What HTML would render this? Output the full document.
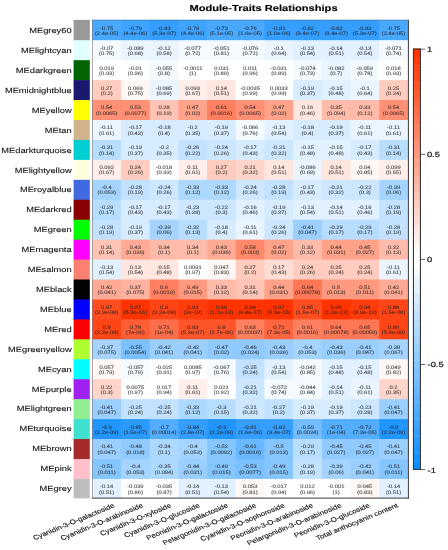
<!DOCTYPE html>
<html><head><meta charset="utf-8"><title>Module-Traits Relationships</title>
<style>html,body{margin:0;padding:0;background:#fff}svg{display:block}text{font-family:"Liberation Sans",Arial,Helvetica,sans-serif;text-rendering:geometricPrecision}</style></head>
<body>
<svg width="448" height="550" viewBox="0 0 448 550">
<rect width="100%" height="100%" fill="#fff"/>
<g font-size="11.11" font-weight="bold" text-anchor="middle" fill="#000" stroke="#000" stroke-width="0.15"><text transform="translate(263.50 11.40) scale(1 0.790)">Module-Traits Relationships</text></g>
<g>
<rect x="73.60" y="19.90" width="16.20" height="20.94" fill="#999999"/>
<rect x="73.60" y="40.24" width="16.20" height="20.54" fill="#E0FFFF"/>
<rect x="73.60" y="60.18" width="16.20" height="20.54" fill="#006400"/>
<rect x="73.60" y="80.12" width="16.20" height="20.54" fill="#191970"/>
<rect x="73.60" y="100.06" width="16.20" height="20.54" fill="#FFFF00"/>
<rect x="73.60" y="120.00" width="16.20" height="20.54" fill="#D2B48C"/>
<rect x="73.60" y="139.94" width="16.20" height="20.54" fill="#00CED1"/>
<rect x="73.60" y="159.88" width="16.20" height="20.54" fill="#FFFFE0"/>
<rect x="73.60" y="179.82" width="16.20" height="20.54" fill="#4169E1"/>
<rect x="73.60" y="199.76" width="16.20" height="20.54" fill="#8B0000"/>
<rect x="73.60" y="219.70" width="16.20" height="20.54" fill="#00FF00"/>
<rect x="73.60" y="239.64" width="16.20" height="20.54" fill="#FF00FF"/>
<rect x="73.60" y="259.58" width="16.20" height="20.54" fill="#FA8072"/>
<rect x="73.60" y="279.52" width="16.20" height="20.54" fill="#000000"/>
<rect x="73.60" y="299.46" width="16.20" height="20.54" fill="#0000FF"/>
<rect x="73.60" y="319.40" width="16.20" height="20.54" fill="#FF0000"/>
<rect x="73.60" y="339.34" width="16.20" height="20.54" fill="#ADFF2F"/>
<rect x="73.60" y="359.28" width="16.20" height="20.54" fill="#00FFFF"/>
<rect x="73.60" y="379.22" width="16.20" height="20.54" fill="#A020F0"/>
<rect x="73.60" y="399.16" width="16.20" height="20.54" fill="#90EE90"/>
<rect x="73.60" y="419.10" width="16.20" height="20.54" fill="#40E0D0"/>
<rect x="73.60" y="439.04" width="16.20" height="20.54" fill="#A52A2A"/>
<rect x="73.60" y="458.98" width="16.20" height="20.54" fill="#FFC0CB"/>
<rect x="73.60" y="478.92" width="16.20" height="19.48" fill="#BEBEBE"/>
</g>
<g font-size="9.30" text-anchor="end" fill="#111" stroke="#111" stroke-width="0.12">
<text transform="translate(71.60 33.22) scale(1 0.800)">MEgrey60</text>
<text transform="translate(71.60 53.13) scale(1 0.800)">MElightcyan</text>
<text transform="translate(71.60 73.03) scale(1 0.800)">MEdarkgreen</text>
<text transform="translate(71.60 92.94) scale(1 0.800)">MEmidnightblue</text>
<text transform="translate(71.60 112.84) scale(1 0.800)">MEyellow</text>
<text transform="translate(71.60 132.74) scale(1 0.800)">MEtan</text>
<text transform="translate(71.60 152.65) scale(1 0.800)">MEdarkturquoise</text>
<text transform="translate(71.60 172.56) scale(1 0.800)">MElightyellow</text>
<text transform="translate(71.60 192.46) scale(1 0.800)">MEroyalblue</text>
<text transform="translate(71.60 212.37) scale(1 0.800)">MEdarkred</text>
<text transform="translate(71.60 232.27) scale(1 0.800)">MEgreen</text>
<text transform="translate(71.60 252.18) scale(1 0.800)">MEmagenta</text>
<text transform="translate(71.60 272.08) scale(1 0.800)">MEsalmon</text>
<text transform="translate(71.60 291.99) scale(1 0.800)">MEblack</text>
<text transform="translate(71.60 311.89) scale(1 0.800)">MEblue</text>
<text transform="translate(71.60 331.80) scale(1 0.800)">MEred</text>
<text transform="translate(71.60 351.70) scale(1 0.800)">MEgreenyellow</text>
<text transform="translate(71.60 371.61) scale(1 0.800)">MEcyan</text>
<text transform="translate(71.60 391.51) scale(1 0.800)">MEpurple</text>
<text transform="translate(71.60 411.42) scale(1 0.800)">MElightgreen</text>
<text transform="translate(71.60 431.32) scale(1 0.800)">MEturquoise</text>
<text transform="translate(71.60 451.23) scale(1 0.800)">MEbrown</text>
<text transform="translate(71.60 471.13) scale(1 0.800)">MEpink</text>
<text transform="translate(71.60 491.04) scale(1 0.800)">MEgrey</text>
</g>
<g>
<rect x="92.35" y="19.80" width="29.28" height="21.04" fill="#49A9FF"/><rect x="121.03" y="19.80" width="29.28" height="21.04" fill="#3FA4FF"/><rect x="149.71" y="19.80" width="29.28" height="21.04" fill="#359FFF"/><rect x="178.40" y="19.80" width="29.28" height="21.04" fill="#3FA4FF"/><rect x="207.08" y="19.80" width="29.28" height="21.04" fill="#49A9FF"/><rect x="235.76" y="19.80" width="29.28" height="21.04" fill="#49A9FF"/><rect x="264.44" y="19.80" width="29.28" height="21.04" fill="#359FFF"/><rect x="293.12" y="19.80" width="29.28" height="21.04" fill="#359FFF"/><rect x="321.80" y="19.80" width="29.28" height="21.04" fill="#359FFF"/><rect x="350.49" y="19.80" width="29.28" height="21.04" fill="#359FFF"/><rect x="379.17" y="19.80" width="28.98" height="21.04" fill="#49A9FF"/>
<rect x="92.35" y="40.24" width="29.28" height="20.54" fill="#F5FAFF"/><rect x="121.03" y="40.24" width="29.28" height="20.54" fill="#EBF5FF"/><rect x="149.71" y="40.24" width="29.28" height="20.54" fill="#EBF5FF"/><rect x="178.40" y="40.24" width="29.28" height="20.54" fill="#F5FAFF"/><rect x="207.08" y="40.24" width="29.28" height="20.54" fill="#F5FAFF"/><rect x="235.76" y="40.24" width="29.28" height="20.54" fill="#F5FAFF"/><rect x="264.44" y="40.24" width="29.28" height="20.54" fill="#EBF5FF"/><rect x="293.12" y="40.24" width="29.28" height="20.54" fill="#E1F1FF"/><rect x="321.80" y="40.24" width="29.28" height="20.54" fill="#E1F1FF"/><rect x="350.49" y="40.24" width="29.28" height="20.54" fill="#E1F1FF"/><rect x="379.17" y="40.24" width="28.98" height="20.54" fill="#F5FAFF"/>
<rect x="92.35" y="60.18" width="29.28" height="20.54" fill="#FFFFFF"/><rect x="121.03" y="60.18" width="29.28" height="20.54" fill="#FFFFFF"/><rect x="149.71" y="60.18" width="29.28" height="20.54" fill="#F5FAFF"/><rect x="178.40" y="60.18" width="29.28" height="20.54" fill="#FFFFFF"/><rect x="207.08" y="60.18" width="29.28" height="20.54" fill="#FFFFFF"/><rect x="235.76" y="60.18" width="29.28" height="20.54" fill="#FFFFFF"/><rect x="264.44" y="60.18" width="29.28" height="20.54" fill="#FFFFFF"/><rect x="293.12" y="60.18" width="29.28" height="20.54" fill="#F5FAFF"/><rect x="321.80" y="60.18" width="29.28" height="20.54" fill="#EBF5FF"/><rect x="350.49" y="60.18" width="29.28" height="20.54" fill="#F5FAFF"/><rect x="379.17" y="60.18" width="28.98" height="20.54" fill="#FFFFFF"/>
<rect x="92.35" y="80.12" width="29.28" height="20.54" fill="#FFCCBF"/><rect x="121.03" y="80.12" width="29.28" height="20.54" fill="#FFF7F4"/><rect x="149.71" y="80.12" width="29.28" height="20.54" fill="#EBF5FF"/><rect x="178.40" y="80.12" width="29.28" height="20.54" fill="#FFEEEA"/><rect x="207.08" y="80.12" width="29.28" height="20.54" fill="#FFE6DF"/><rect x="235.76" y="80.12" width="29.28" height="20.54" fill="#FFFFFF"/><rect x="264.44" y="80.12" width="29.28" height="20.54" fill="#FFFFFF"/><rect x="293.12" y="80.12" width="29.28" height="20.54" fill="#D7ECFF"/><rect x="321.80" y="80.12" width="29.28" height="20.54" fill="#E1F1FF"/><rect x="350.49" y="80.12" width="29.28" height="20.54" fill="#EBF5FF"/><rect x="379.17" y="80.12" width="28.98" height="20.54" fill="#FFCCBF"/>
<rect x="92.35" y="100.06" width="29.28" height="20.54" fill="#FF9075"/><rect x="121.03" y="100.06" width="29.28" height="20.54" fill="#FF9075"/><rect x="149.71" y="100.06" width="29.28" height="20.54" fill="#FFC4B5"/><rect x="178.40" y="100.06" width="29.28" height="20.54" fill="#FFA28A"/><rect x="207.08" y="100.06" width="29.28" height="20.54" fill="#FF8060"/><rect x="235.76" y="100.06" width="29.28" height="20.54" fill="#FF9075"/><rect x="264.44" y="100.06" width="29.28" height="20.54" fill="#FFA28A"/><rect x="293.12" y="100.06" width="29.28" height="20.54" fill="#FFE6DF"/><rect x="321.80" y="100.06" width="29.28" height="20.54" fill="#FFBBAA"/><rect x="350.49" y="100.06" width="29.28" height="20.54" fill="#FFBBAA"/><rect x="379.17" y="100.06" width="28.98" height="20.54" fill="#FF9075"/>
<rect x="92.35" y="120.00" width="29.28" height="20.54" fill="#EBF5FF"/><rect x="121.03" y="120.00" width="29.28" height="20.54" fill="#D7ECFF"/><rect x="149.71" y="120.00" width="29.28" height="20.54" fill="#D7ECFF"/><rect x="178.40" y="120.00" width="29.28" height="20.54" fill="#D7ECFF"/><rect x="207.08" y="120.00" width="29.28" height="20.54" fill="#D7ECFF"/><rect x="235.76" y="120.00" width="29.28" height="20.54" fill="#F5FAFF"/><rect x="264.44" y="120.00" width="29.28" height="20.54" fill="#E1F1FF"/><rect x="293.12" y="120.00" width="29.28" height="20.54" fill="#D7ECFF"/><rect x="321.80" y="120.00" width="29.28" height="20.54" fill="#D7ECFF"/><rect x="350.49" y="120.00" width="29.28" height="20.54" fill="#EBF5FF"/><rect x="379.17" y="120.00" width="28.98" height="20.54" fill="#EBF5FF"/>
<rect x="92.35" y="139.94" width="29.28" height="20.54" fill="#B8DEFF"/><rect x="121.03" y="139.94" width="29.28" height="20.54" fill="#D7ECFF"/><rect x="149.71" y="139.94" width="29.28" height="20.54" fill="#D7ECFF"/><rect x="178.40" y="139.94" width="29.28" height="20.54" fill="#C2E2FF"/><rect x="207.08" y="139.94" width="29.28" height="20.54" fill="#CDE7FF"/><rect x="235.76" y="139.94" width="29.28" height="20.54" fill="#D7ECFF"/><rect x="264.44" y="139.94" width="29.28" height="20.54" fill="#CDE7FF"/><rect x="293.12" y="139.94" width="29.28" height="20.54" fill="#E1F1FF"/><rect x="321.80" y="139.94" width="29.28" height="20.54" fill="#E1F1FF"/><rect x="350.49" y="139.94" width="29.28" height="20.54" fill="#D7ECFF"/><rect x="379.17" y="139.94" width="28.98" height="20.54" fill="#B8DEFF"/>
<rect x="92.35" y="159.88" width="29.28" height="20.54" fill="#FFEEEA"/><rect x="121.03" y="159.88" width="29.28" height="20.54" fill="#FFCCBF"/><rect x="149.71" y="159.88" width="29.28" height="20.54" fill="#FFFFFF"/><rect x="178.40" y="159.88" width="29.28" height="20.54" fill="#FFEEEA"/><rect x="207.08" y="159.88" width="29.28" height="20.54" fill="#FFCCBF"/><rect x="235.76" y="159.88" width="29.28" height="20.54" fill="#FFD4CA"/><rect x="264.44" y="159.88" width="29.28" height="20.54" fill="#FFE6DF"/><rect x="293.12" y="159.88" width="29.28" height="20.54" fill="#EBF5FF"/><rect x="321.80" y="159.88" width="29.28" height="20.54" fill="#FFE6DF"/><rect x="350.49" y="159.88" width="29.28" height="20.54" fill="#FFF7F4"/><rect x="379.17" y="159.88" width="28.98" height="20.54" fill="#FFEEEA"/>
<rect x="92.35" y="179.82" width="29.28" height="20.54" fill="#A4D4FF"/><rect x="121.03" y="179.82" width="29.28" height="20.54" fill="#C2E2FF"/><rect x="149.71" y="179.82" width="29.28" height="20.54" fill="#CDE7FF"/><rect x="178.40" y="179.82" width="29.28" height="20.54" fill="#AED9FF"/><rect x="207.08" y="179.82" width="29.28" height="20.54" fill="#AED9FF"/><rect x="235.76" y="179.82" width="29.28" height="20.54" fill="#CDE7FF"/><rect x="264.44" y="179.82" width="29.28" height="20.54" fill="#C2E2FF"/><rect x="293.12" y="179.82" width="29.28" height="20.54" fill="#D7ECFF"/><rect x="321.80" y="179.82" width="29.28" height="20.54" fill="#CDE7FF"/><rect x="350.49" y="179.82" width="29.28" height="20.54" fill="#CDE7FF"/><rect x="379.17" y="179.82" width="28.98" height="20.54" fill="#A4D4FF"/>
<rect x="92.35" y="199.76" width="29.28" height="20.54" fill="#B8DEFF"/><rect x="121.03" y="199.76" width="29.28" height="20.54" fill="#D7ECFF"/><rect x="149.71" y="199.76" width="29.28" height="20.54" fill="#D7ECFF"/><rect x="178.40" y="199.76" width="29.28" height="20.54" fill="#CDE7FF"/><rect x="207.08" y="199.76" width="29.28" height="20.54" fill="#CDE7FF"/><rect x="235.76" y="199.76" width="29.28" height="20.54" fill="#E1F1FF"/><rect x="264.44" y="199.76" width="29.28" height="20.54" fill="#D7ECFF"/><rect x="293.12" y="199.76" width="29.28" height="20.54" fill="#E1F1FF"/><rect x="321.80" y="199.76" width="29.28" height="20.54" fill="#E1F1FF"/><rect x="350.49" y="199.76" width="29.28" height="20.54" fill="#E1F1FF"/><rect x="379.17" y="199.76" width="28.98" height="20.54" fill="#C2E2FF"/>
<rect x="92.35" y="219.70" width="29.28" height="20.54" fill="#C2E2FF"/><rect x="121.03" y="219.70" width="29.28" height="20.54" fill="#D7ECFF"/><rect x="149.71" y="219.70" width="29.28" height="20.54" fill="#A4D4FF"/><rect x="178.40" y="219.70" width="29.28" height="20.54" fill="#B8DEFF"/><rect x="207.08" y="219.70" width="29.28" height="20.54" fill="#D7ECFF"/><rect x="235.76" y="219.70" width="29.28" height="20.54" fill="#EBF5FF"/><rect x="264.44" y="219.70" width="29.28" height="20.54" fill="#CDE7FF"/><rect x="293.12" y="219.70" width="29.28" height="20.54" fill="#9ACFFF"/><rect x="321.80" y="219.70" width="29.28" height="20.54" fill="#B8DEFF"/><rect x="350.49" y="219.70" width="29.28" height="20.54" fill="#B8DEFF"/><rect x="379.17" y="219.70" width="28.98" height="20.54" fill="#C2E2FF"/>
<rect x="92.35" y="239.64" width="29.28" height="20.54" fill="#FFC4B5"/><rect x="121.03" y="239.64" width="29.28" height="20.54" fill="#FFAA95"/><rect x="149.71" y="239.64" width="29.28" height="20.54" fill="#FFBBAA"/><rect x="178.40" y="239.64" width="29.28" height="20.54" fill="#FFBBAA"/><rect x="207.08" y="239.64" width="29.28" height="20.54" fill="#FFAA95"/><rect x="235.76" y="239.64" width="29.28" height="20.54" fill="#FF886A"/><rect x="264.44" y="239.64" width="29.28" height="20.54" fill="#FFA28A"/><rect x="293.12" y="239.64" width="29.28" height="20.54" fill="#FFBBAA"/><rect x="321.80" y="239.64" width="29.28" height="20.54" fill="#FFA28A"/><rect x="350.49" y="239.64" width="29.28" height="20.54" fill="#FFA28A"/><rect x="379.17" y="239.64" width="28.98" height="20.54" fill="#FFBBAA"/>
<rect x="92.35" y="259.58" width="29.28" height="20.54" fill="#E1F1FF"/><rect x="121.03" y="259.58" width="29.28" height="20.54" fill="#FFE6DF"/><rect x="149.71" y="259.58" width="29.28" height="20.54" fill="#FFE6DF"/><rect x="178.40" y="259.58" width="29.28" height="20.54" fill="#FFFFFF"/><rect x="207.08" y="259.58" width="29.28" height="20.54" fill="#FFF7F4"/><rect x="235.76" y="259.58" width="29.28" height="20.54" fill="#FFCCBF"/><rect x="264.44" y="259.58" width="29.28" height="20.54" fill="#FFDDD4"/><rect x="293.12" y="259.58" width="29.28" height="20.54" fill="#FFCCBF"/><rect x="321.80" y="259.58" width="29.28" height="20.54" fill="#FFCCBF"/><rect x="350.49" y="259.58" width="29.28" height="20.54" fill="#FFCCBF"/><rect x="379.17" y="259.58" width="28.98" height="20.54" fill="#EBF5FF"/>
<rect x="92.35" y="279.52" width="29.28" height="20.54" fill="#FFAA95"/><rect x="121.03" y="279.52" width="29.28" height="20.54" fill="#FFB29F"/><rect x="149.71" y="279.52" width="29.28" height="20.54" fill="#FF8060"/><rect x="178.40" y="279.52" width="29.28" height="20.54" fill="#FF9980"/><rect x="207.08" y="279.52" width="29.28" height="20.54" fill="#FFBBAA"/><rect x="235.76" y="279.52" width="29.28" height="20.54" fill="#FFC4B5"/><rect x="264.44" y="279.52" width="29.28" height="20.54" fill="#FFA28A"/><rect x="293.12" y="279.52" width="29.28" height="20.54" fill="#FF7755"/><rect x="321.80" y="279.52" width="29.28" height="20.54" fill="#FF9980"/><rect x="350.49" y="279.52" width="29.28" height="20.54" fill="#FF9980"/><rect x="379.17" y="279.52" width="28.98" height="20.54" fill="#FFAA95"/>
<rect x="92.35" y="299.46" width="29.28" height="20.54" fill="#FF4D20"/><rect x="121.03" y="299.46" width="29.28" height="20.54" fill="#FF3300"/><rect x="149.71" y="299.46" width="29.28" height="20.54" fill="#FF4415"/><rect x="178.40" y="299.46" width="29.28" height="20.54" fill="#FF3C0B"/><rect x="207.08" y="299.46" width="29.28" height="20.54" fill="#FF3300"/><rect x="235.76" y="299.46" width="29.28" height="20.54" fill="#FF3300"/><rect x="264.44" y="299.46" width="29.28" height="20.54" fill="#FF3300"/><rect x="293.12" y="299.46" width="29.28" height="20.54" fill="#FF4D20"/><rect x="321.80" y="299.46" width="29.28" height="20.54" fill="#FF3300"/><rect x="350.49" y="299.46" width="29.28" height="20.54" fill="#FF3C0B"/><rect x="379.17" y="299.46" width="28.98" height="20.54" fill="#FF4415"/>
<rect x="92.35" y="319.40" width="29.28" height="20.54" fill="#FF4415"/><rect x="121.03" y="319.40" width="29.28" height="20.54" fill="#FF5E35"/><rect x="149.71" y="319.40" width="29.28" height="20.54" fill="#FF6E4A"/><rect x="178.40" y="319.40" width="29.28" height="20.54" fill="#FF552A"/><rect x="207.08" y="319.40" width="29.28" height="20.54" fill="#FF552A"/><rect x="235.76" y="319.40" width="29.28" height="20.54" fill="#FF8060"/><rect x="264.44" y="319.40" width="29.28" height="20.54" fill="#FF6640"/><rect x="293.12" y="319.40" width="29.28" height="20.54" fill="#FF8060"/><rect x="321.80" y="319.40" width="29.28" height="20.54" fill="#FF7755"/><rect x="350.49" y="319.40" width="29.28" height="20.54" fill="#FF7755"/><rect x="379.17" y="319.40" width="28.98" height="20.54" fill="#FF4415"/>
<rect x="92.35" y="339.34" width="29.28" height="20.54" fill="#A4D4FF"/><rect x="121.03" y="339.34" width="29.28" height="20.54" fill="#7CC1FF"/><rect x="149.71" y="339.34" width="29.28" height="20.54" fill="#9ACFFF"/><rect x="178.40" y="339.34" width="29.28" height="20.54" fill="#9ACFFF"/><rect x="207.08" y="339.34" width="29.28" height="20.54" fill="#90CAFF"/><rect x="235.76" y="339.34" width="29.28" height="20.54" fill="#90CAFF"/><rect x="264.44" y="339.34" width="29.28" height="20.54" fill="#9ACFFF"/><rect x="293.12" y="339.34" width="29.28" height="20.54" fill="#A4D4FF"/><rect x="321.80" y="339.34" width="29.28" height="20.54" fill="#9ACFFF"/><rect x="350.49" y="339.34" width="29.28" height="20.54" fill="#9ACFFF"/><rect x="379.17" y="339.34" width="28.98" height="20.54" fill="#A4D4FF"/>
<rect x="92.35" y="359.28" width="29.28" height="20.54" fill="#FFF7F4"/><rect x="121.03" y="359.28" width="29.28" height="20.54" fill="#F5FAFF"/><rect x="149.71" y="359.28" width="29.28" height="20.54" fill="#FFFFFF"/><rect x="178.40" y="359.28" width="29.28" height="20.54" fill="#FFFFFF"/><rect x="207.08" y="359.28" width="29.28" height="20.54" fill="#F5FAFF"/><rect x="235.76" y="359.28" width="29.28" height="20.54" fill="#C2E2FF"/><rect x="264.44" y="359.28" width="29.28" height="20.54" fill="#E1F1FF"/><rect x="293.12" y="359.28" width="29.28" height="20.54" fill="#F5FAFF"/><rect x="321.80" y="359.28" width="29.28" height="20.54" fill="#E1F1FF"/><rect x="350.49" y="359.28" width="29.28" height="20.54" fill="#E1F1FF"/><rect x="379.17" y="359.28" width="28.98" height="20.54" fill="#FFF7F4"/>
<rect x="92.35" y="379.22" width="29.28" height="20.54" fill="#FFD4CA"/><rect x="121.03" y="379.22" width="29.28" height="20.54" fill="#FFFFFF"/><rect x="149.71" y="379.22" width="29.28" height="20.54" fill="#FFFFFF"/><rect x="178.40" y="379.22" width="29.28" height="20.54" fill="#FFEEEA"/><rect x="207.08" y="379.22" width="29.28" height="20.54" fill="#FFFFFF"/><rect x="235.76" y="379.22" width="29.28" height="20.54" fill="#CDE7FF"/><rect x="264.44" y="379.22" width="29.28" height="20.54" fill="#F5FAFF"/><rect x="293.12" y="379.22" width="29.28" height="20.54" fill="#F5FAFF"/><rect x="321.80" y="379.22" width="29.28" height="20.54" fill="#E1F1FF"/><rect x="350.49" y="379.22" width="29.28" height="20.54" fill="#EBF5FF"/><rect x="379.17" y="379.22" width="28.98" height="20.54" fill="#FFD4CA"/>
<rect x="92.35" y="399.16" width="29.28" height="20.54" fill="#9ACFFF"/><rect x="121.03" y="399.16" width="29.28" height="20.54" fill="#C2E2FF"/><rect x="149.71" y="399.16" width="29.28" height="20.54" fill="#C2E2FF"/><rect x="178.40" y="399.16" width="29.28" height="20.54" fill="#AED9FF"/><rect x="207.08" y="399.16" width="29.28" height="20.54" fill="#B8DEFF"/><rect x="235.76" y="399.16" width="29.28" height="20.54" fill="#CDE7FF"/><rect x="264.44" y="399.16" width="29.28" height="20.54" fill="#C2E2FF"/><rect x="293.12" y="399.16" width="29.28" height="20.54" fill="#D7ECFF"/><rect x="321.80" y="399.16" width="29.28" height="20.54" fill="#D7ECFF"/><rect x="350.49" y="399.16" width="29.28" height="20.54" fill="#CDE7FF"/><rect x="379.17" y="399.16" width="28.98" height="20.54" fill="#9ACFFF"/>
<rect x="92.35" y="419.10" width="29.28" height="20.54" fill="#2196FF"/><rect x="121.03" y="419.10" width="29.28" height="20.54" fill="#2B9BFF"/><rect x="149.71" y="419.10" width="29.28" height="20.54" fill="#53AEFF"/><rect x="178.40" y="419.10" width="29.28" height="20.54" fill="#359FFF"/><rect x="207.08" y="419.10" width="29.28" height="20.54" fill="#2196FF"/><rect x="235.76" y="419.10" width="29.28" height="20.54" fill="#359FFF"/><rect x="264.44" y="419.10" width="29.28" height="20.54" fill="#359FFF"/><rect x="293.12" y="419.10" width="29.28" height="20.54" fill="#72BCFF"/><rect x="321.80" y="419.10" width="29.28" height="20.54" fill="#53AEFF"/><rect x="350.49" y="419.10" width="29.28" height="20.54" fill="#53AEFF"/><rect x="379.17" y="419.10" width="28.98" height="20.54" fill="#2196FF"/>
<rect x="92.35" y="439.04" width="29.28" height="20.54" fill="#9ACFFF"/><rect x="121.03" y="439.04" width="29.28" height="20.54" fill="#90CAFF"/><rect x="149.71" y="439.04" width="29.28" height="20.54" fill="#AED9FF"/><rect x="178.40" y="439.04" width="29.28" height="20.54" fill="#A4D4FF"/><rect x="207.08" y="439.04" width="29.28" height="20.54" fill="#86C6FF"/><rect x="235.76" y="439.04" width="29.28" height="20.54" fill="#68B7FF"/><rect x="264.44" y="439.04" width="29.28" height="20.54" fill="#86C6FF"/><rect x="293.12" y="439.04" width="29.28" height="20.54" fill="#B8DEFF"/><rect x="321.80" y="439.04" width="29.28" height="20.54" fill="#90CAFF"/><rect x="350.49" y="439.04" width="29.28" height="20.54" fill="#90CAFF"/><rect x="379.17" y="439.04" width="28.98" height="20.54" fill="#9ACFFF"/>
<rect x="92.35" y="458.98" width="29.28" height="20.54" fill="#86C6FF"/><rect x="121.03" y="458.98" width="29.28" height="20.54" fill="#A4D4FF"/><rect x="149.71" y="458.98" width="29.28" height="20.54" fill="#AED9FF"/><rect x="178.40" y="458.98" width="29.28" height="20.54" fill="#9ACFFF"/><rect x="207.08" y="458.98" width="29.28" height="20.54" fill="#86C6FF"/><rect x="235.76" y="458.98" width="29.28" height="20.54" fill="#7CC1FF"/><rect x="264.44" y="458.98" width="29.28" height="20.54" fill="#86C6FF"/><rect x="293.12" y="458.98" width="29.28" height="20.54" fill="#C2E2FF"/><rect x="321.80" y="458.98" width="29.28" height="20.54" fill="#A4D4FF"/><rect x="350.49" y="458.98" width="29.28" height="20.54" fill="#9ACFFF"/><rect x="379.17" y="458.98" width="28.98" height="20.54" fill="#86C6FF"/>
<rect x="92.35" y="478.92" width="29.28" height="19.68" fill="#E1F1FF"/><rect x="121.03" y="478.92" width="29.28" height="19.68" fill="#FFFFFF"/><rect x="149.71" y="478.92" width="29.28" height="19.68" fill="#FFFFFF"/><rect x="178.40" y="478.92" width="29.28" height="19.68" fill="#E1F1FF"/><rect x="207.08" y="478.92" width="29.28" height="19.68" fill="#E1F1FF"/><rect x="235.76" y="478.92" width="29.28" height="19.68" fill="#FFF7F4"/><rect x="264.44" y="478.92" width="29.28" height="19.68" fill="#FFFFFF"/><rect x="293.12" y="478.92" width="29.28" height="19.68" fill="#FFFFFF"/><rect x="321.80" y="478.92" width="29.28" height="19.68" fill="#FFFFFF"/><rect x="350.49" y="478.92" width="29.28" height="19.68" fill="#FFF7F4"/><rect x="379.17" y="478.92" width="28.98" height="19.68" fill="#E1F1FF"/>
</g>
<g fill="#3c3c3c"><rect x="92.00" y="19.80" width="0.70" height="478.80" fill-opacity="0.6"/><rect x="407.90" y="19.80" width="1.00" height="478.80"/><rect x="92.00" y="19.80" width="316.90" height="0.60" fill-opacity="0.5"/><rect x="92.00" y="497.60" width="316.90" height="1.00"/></g>
<g font-size="5.80" text-anchor="middle" fill="#222" opacity="0.78" stroke="#222" stroke-width="0.14">
<text transform="translate(106.69 29.70) scale(1 0.880)">-0.75</text><text transform="translate(106.69 34.90) scale(1 0.880)">(2.4e-05)</text><text transform="translate(135.37 29.70) scale(1 0.880)">-0.79</text><text transform="translate(135.37 34.90) scale(1 0.880)">(4.4e-06)</text><text transform="translate(164.05 29.70) scale(1 0.880)">-0.83</text><text transform="translate(164.05 34.90) scale(1 0.880)">(5.3e-07)</text><text transform="translate(192.74 29.70) scale(1 0.880)">-0.79</text><text transform="translate(192.74 34.90) scale(1 0.880)">(4.4e-06)</text><text transform="translate(221.42 29.70) scale(1 0.880)">-0.73</text><text transform="translate(221.42 34.90) scale(1 0.880)">(5.1e-05)</text><text transform="translate(250.10 29.70) scale(1 0.880)">-0.76</text><text transform="translate(250.10 34.90) scale(1 0.880)">(1.6e-05)</text><text transform="translate(278.78 29.70) scale(1 0.880)">-0.81</text><text transform="translate(278.78 34.90) scale(1 0.880)">(1.6e-06)</text><text transform="translate(307.46 29.70) scale(1 0.880)">-0.82</text><text transform="translate(307.46 34.90) scale(1 0.880)">(9.4e-07)</text><text transform="translate(336.15 29.70) scale(1 0.880)">-0.82</text><text transform="translate(336.15 34.90) scale(1 0.880)">(9.4e-07)</text><text transform="translate(364.83 29.70) scale(1 0.880)">-0.83</text><text transform="translate(364.83 34.90) scale(1 0.880)">(5.3e-07)</text><text transform="translate(393.51 29.70) scale(1 0.880)">-0.75</text><text transform="translate(393.51 34.90) scale(1 0.880)">(2.4e-05)</text>
<text transform="translate(106.69 49.64) scale(1 0.880)">-0.07</text><text transform="translate(106.69 54.84) scale(1 0.880)">(0.75)</text><text transform="translate(135.37 49.64) scale(1 0.880)">-0.089</text><text transform="translate(135.37 54.84) scale(1 0.880)">(0.68)</text><text transform="translate(164.05 49.64) scale(1 0.880)">-0.12</text><text transform="translate(164.05 54.84) scale(1 0.880)">(0.58)</text><text transform="translate(192.74 49.64) scale(1 0.880)">-0.077</text><text transform="translate(192.74 54.84) scale(1 0.880)">(0.72)</text><text transform="translate(221.42 49.64) scale(1 0.880)">-0.051</text><text transform="translate(221.42 54.84) scale(1 0.880)">(0.81)</text><text transform="translate(250.10 49.64) scale(1 0.880)">-0.076</text><text transform="translate(250.10 54.84) scale(1 0.880)">(0.72)</text><text transform="translate(278.78 49.64) scale(1 0.880)">-0.1</text><text transform="translate(278.78 54.84) scale(1 0.880)">(0.64)</text><text transform="translate(307.46 49.64) scale(1 0.880)">-0.13</text><text transform="translate(307.46 54.84) scale(1 0.880)">(0.54)</text><text transform="translate(336.15 49.64) scale(1 0.880)">-0.14</text><text transform="translate(336.15 54.84) scale(1 0.880)">(0.51)</text><text transform="translate(364.83 49.64) scale(1 0.880)">-0.13</text><text transform="translate(364.83 54.84) scale(1 0.880)">(0.54)</text><text transform="translate(393.51 49.64) scale(1 0.880)">-0.071</text><text transform="translate(393.51 54.84) scale(1 0.880)">(0.74)</text>
<text transform="translate(106.69 69.58) scale(1 0.880)">0.019</text><text transform="translate(106.69 74.78) scale(1 0.880)">(0.93)</text><text transform="translate(135.37 69.58) scale(1 0.880)">-0.01</text><text transform="translate(135.37 74.78) scale(1 0.880)">(0.96)</text><text transform="translate(164.05 69.58) scale(1 0.880)">-0.055</text><text transform="translate(164.05 74.78) scale(1 0.880)">(0.8)</text><text transform="translate(192.74 69.58) scale(1 0.880)">-0.0011</text><text transform="translate(192.74 74.78) scale(1 0.880)">(1)</text><text transform="translate(221.42 69.58) scale(1 0.880)">0.031</text><text transform="translate(221.42 74.78) scale(1 0.880)">(0.89)</text><text transform="translate(250.10 69.58) scale(1 0.880)">0.011</text><text transform="translate(250.10 74.78) scale(1 0.880)">(0.96)</text><text transform="translate(278.78 69.58) scale(1 0.880)">-0.031</text><text transform="translate(278.78 74.78) scale(1 0.880)">(0.89)</text><text transform="translate(307.46 69.58) scale(1 0.880)">-0.074</text><text transform="translate(307.46 74.78) scale(1 0.880)">(0.73)</text><text transform="translate(336.15 69.58) scale(1 0.880)">-0.082</text><text transform="translate(336.15 74.78) scale(1 0.880)">(0.7)</text><text transform="translate(364.83 69.58) scale(1 0.880)">-0.059</text><text transform="translate(364.83 74.78) scale(1 0.880)">(0.78)</text><text transform="translate(393.51 69.58) scale(1 0.880)">0.018</text><text transform="translate(393.51 74.78) scale(1 0.880)">(0.93)</text>
<text transform="translate(106.69 89.52) scale(1 0.880)">0.27</text><text transform="translate(106.69 94.72) scale(1 0.880)">(0.2)</text><text transform="translate(135.37 89.52) scale(1 0.880)">0.069</text><text transform="translate(135.37 94.72) scale(1 0.880)">(0.75)</text><text transform="translate(164.05 89.52) scale(1 0.880)">-0.085</text><text transform="translate(164.05 94.72) scale(1 0.880)">(0.69)</text><text transform="translate(192.74 89.52) scale(1 0.880)">0.093</text><text transform="translate(192.74 94.72) scale(1 0.880)">(0.67)</text><text transform="translate(221.42 89.52) scale(1 0.880)">0.14</text><text transform="translate(221.42 94.72) scale(1 0.880)">(0.51)</text><text transform="translate(250.10 89.52) scale(1 0.880)">-0.0035</text><text transform="translate(250.10 94.72) scale(1 0.880)">(0.99)</text><text transform="translate(278.78 89.52) scale(1 0.880)">0.0033</text><text transform="translate(278.78 94.72) scale(1 0.880)">(0.99)</text><text transform="translate(307.46 89.52) scale(1 0.880)">-0.19</text><text transform="translate(307.46 94.72) scale(1 0.880)">(0.37)</text><text transform="translate(336.15 89.52) scale(1 0.880)">-0.15</text><text transform="translate(336.15 94.72) scale(1 0.880)">(0.48)</text><text transform="translate(364.83 89.52) scale(1 0.880)">-0.1</text><text transform="translate(364.83 94.72) scale(1 0.880)">(0.64)</text><text transform="translate(393.51 89.52) scale(1 0.880)">0.25</text><text transform="translate(393.51 94.72) scale(1 0.880)">(0.24)</text>
<text transform="translate(106.69 109.46) scale(1 0.880)">0.54</text><text transform="translate(106.69 114.66) scale(1 0.880)">(0.0065)</text><text transform="translate(135.37 109.46) scale(1 0.880)">0.53</text><text transform="translate(135.37 114.66) scale(1 0.880)">(0.0077)</text><text transform="translate(164.05 109.46) scale(1 0.880)">0.28</text><text transform="translate(164.05 114.66) scale(1 0.880)">(0.19)</text><text transform="translate(192.74 109.46) scale(1 0.880)">0.47</text><text transform="translate(192.74 114.66) scale(1 0.880)">(0.02)</text><text transform="translate(221.42 109.46) scale(1 0.880)">0.61</text><text transform="translate(221.42 114.66) scale(1 0.880)">(0.0016)</text><text transform="translate(250.10 109.46) scale(1 0.880)">0.54</text><text transform="translate(250.10 114.66) scale(1 0.880)">(0.0065)</text><text transform="translate(278.78 109.46) scale(1 0.880)">0.47</text><text transform="translate(278.78 114.66) scale(1 0.880)">(0.02)</text><text transform="translate(307.46 109.46) scale(1 0.880)">0.16</text><text transform="translate(307.46 114.66) scale(1 0.880)">(0.46)</text><text transform="translate(336.15 109.46) scale(1 0.880)">0.35</text><text transform="translate(336.15 114.66) scale(1 0.880)">(0.094)</text><text transform="translate(364.83 109.46) scale(1 0.880)">0.33</text><text transform="translate(364.83 114.66) scale(1 0.880)">(0.12)</text><text transform="translate(393.51 109.46) scale(1 0.880)">0.54</text><text transform="translate(393.51 114.66) scale(1 0.880)">(0.0065)</text>
<text transform="translate(106.69 129.40) scale(1 0.880)">-0.11</text><text transform="translate(106.69 134.60) scale(1 0.880)">(0.61)</text><text transform="translate(135.37 129.40) scale(1 0.880)">-0.17</text><text transform="translate(135.37 134.60) scale(1 0.880)">(0.43)</text><text transform="translate(164.05 129.40) scale(1 0.880)">-0.18</text><text transform="translate(164.05 134.60) scale(1 0.880)">(0.4)</text><text transform="translate(192.74 129.40) scale(1 0.880)">-0.2</text><text transform="translate(192.74 134.60) scale(1 0.880)">(0.35)</text><text transform="translate(221.42 129.40) scale(1 0.880)">-0.19</text><text transform="translate(221.42 134.60) scale(1 0.880)">(0.37)</text><text transform="translate(250.10 129.40) scale(1 0.880)">-0.066</text><text transform="translate(250.10 134.60) scale(1 0.880)">(0.76)</text><text transform="translate(278.78 129.40) scale(1 0.880)">-0.13</text><text transform="translate(278.78 134.60) scale(1 0.880)">(0.54)</text><text transform="translate(307.46 129.40) scale(1 0.880)">-0.18</text><text transform="translate(307.46 134.60) scale(1 0.880)">(0.4)</text><text transform="translate(336.15 129.40) scale(1 0.880)">-0.19</text><text transform="translate(336.15 134.60) scale(1 0.880)">(0.37)</text><text transform="translate(364.83 129.40) scale(1 0.880)">-0.11</text><text transform="translate(364.83 134.60) scale(1 0.880)">(0.61)</text><text transform="translate(393.51 129.40) scale(1 0.880)">-0.11</text><text transform="translate(393.51 134.60) scale(1 0.880)">(0.61)</text>
<text transform="translate(106.69 149.34) scale(1 0.880)">-0.31</text><text transform="translate(106.69 154.54) scale(1 0.880)">(0.14)</text><text transform="translate(135.37 149.34) scale(1 0.880)">-0.19</text><text transform="translate(135.37 154.54) scale(1 0.880)">(0.37)</text><text transform="translate(164.05 149.34) scale(1 0.880)">-0.2</text><text transform="translate(164.05 154.54) scale(1 0.880)">(0.35)</text><text transform="translate(192.74 149.34) scale(1 0.880)">-0.26</text><text transform="translate(192.74 154.54) scale(1 0.880)">(0.22)</text><text transform="translate(221.42 149.34) scale(1 0.880)">-0.24</text><text transform="translate(221.42 154.54) scale(1 0.880)">(0.26)</text><text transform="translate(250.10 149.34) scale(1 0.880)">-0.17</text><text transform="translate(250.10 154.54) scale(1 0.880)">(0.43)</text><text transform="translate(278.78 149.34) scale(1 0.880)">-0.21</text><text transform="translate(278.78 154.54) scale(1 0.880)">(0.32)</text><text transform="translate(307.46 149.34) scale(1 0.880)">-0.15</text><text transform="translate(307.46 154.54) scale(1 0.880)">(0.48)</text><text transform="translate(336.15 149.34) scale(1 0.880)">-0.15</text><text transform="translate(336.15 154.54) scale(1 0.880)">(0.48)</text><text transform="translate(364.83 149.34) scale(1 0.880)">-0.17</text><text transform="translate(364.83 154.54) scale(1 0.880)">(0.43)</text><text transform="translate(393.51 149.34) scale(1 0.880)">-0.31</text><text transform="translate(393.51 154.54) scale(1 0.880)">(0.14)</text>
<text transform="translate(106.69 169.28) scale(1 0.880)">0.092</text><text transform="translate(106.69 174.48) scale(1 0.880)">(0.67)</text><text transform="translate(135.37 169.28) scale(1 0.880)">0.24</text><text transform="translate(135.37 174.48) scale(1 0.880)">(0.26)</text><text transform="translate(164.05 169.28) scale(1 0.880)">-0.018</text><text transform="translate(164.05 174.48) scale(1 0.880)">(0.93)</text><text transform="translate(192.74 169.28) scale(1 0.880)">0.11</text><text transform="translate(192.74 174.48) scale(1 0.880)">(0.61)</text><text transform="translate(221.42 169.28) scale(1 0.880)">0.27</text><text transform="translate(221.42 174.48) scale(1 0.880)">(0.2)</text><text transform="translate(250.10 169.28) scale(1 0.880)">0.21</text><text transform="translate(250.10 174.48) scale(1 0.880)">(0.32)</text><text transform="translate(278.78 169.28) scale(1 0.880)">0.14</text><text transform="translate(278.78 174.48) scale(1 0.880)">(0.51)</text><text transform="translate(307.46 169.28) scale(1 0.880)">-0.086</text><text transform="translate(307.46 174.48) scale(1 0.880)">(0.69)</text><text transform="translate(336.15 169.28) scale(1 0.880)">0.14</text><text transform="translate(336.15 174.48) scale(1 0.880)">(0.51)</text><text transform="translate(364.83 169.28) scale(1 0.880)">0.04</text><text transform="translate(364.83 174.48) scale(1 0.880)">(0.85)</text><text transform="translate(393.51 169.28) scale(1 0.880)">0.099</text><text transform="translate(393.51 174.48) scale(1 0.880)">(0.65)</text>
<text transform="translate(106.69 189.22) scale(1 0.880)">-0.4</text><text transform="translate(106.69 194.42) scale(1 0.880)">(0.053)</text><text transform="translate(135.37 189.22) scale(1 0.880)">-0.28</text><text transform="translate(135.37 194.42) scale(1 0.880)">(0.19)</text><text transform="translate(164.05 189.22) scale(1 0.880)">-0.24</text><text transform="translate(164.05 194.42) scale(1 0.880)">(0.26)</text><text transform="translate(192.74 189.22) scale(1 0.880)">-0.33</text><text transform="translate(192.74 194.42) scale(1 0.880)">(0.12)</text><text transform="translate(221.42 189.22) scale(1 0.880)">-0.33</text><text transform="translate(221.42 194.42) scale(1 0.880)">(0.12)</text><text transform="translate(250.10 189.22) scale(1 0.880)">-0.24</text><text transform="translate(250.10 194.42) scale(1 0.880)">(0.26)</text><text transform="translate(278.78 189.22) scale(1 0.880)">-0.28</text><text transform="translate(278.78 194.42) scale(1 0.880)">(0.19)</text><text transform="translate(307.46 189.22) scale(1 0.880)">-0.17</text><text transform="translate(307.46 194.42) scale(1 0.880)">(0.43)</text><text transform="translate(336.15 189.22) scale(1 0.880)">-0.21</text><text transform="translate(336.15 194.42) scale(1 0.880)">(0.32)</text><text transform="translate(364.83 189.22) scale(1 0.880)">-0.22</text><text transform="translate(364.83 194.42) scale(1 0.880)">(0.3)</text><text transform="translate(393.51 189.22) scale(1 0.880)">-0.39</text><text transform="translate(393.51 194.42) scale(1 0.880)">(0.06)</text>
<text transform="translate(106.69 209.16) scale(1 0.880)">-0.29</text><text transform="translate(106.69 214.36) scale(1 0.880)">(0.17)</text><text transform="translate(135.37 209.16) scale(1 0.880)">-0.17</text><text transform="translate(135.37 214.36) scale(1 0.880)">(0.43)</text><text transform="translate(164.05 209.16) scale(1 0.880)">-0.17</text><text transform="translate(164.05 214.36) scale(1 0.880)">(0.43)</text><text transform="translate(192.74 209.16) scale(1 0.880)">-0.23</text><text transform="translate(192.74 214.36) scale(1 0.880)">(0.28)</text><text transform="translate(221.42 209.16) scale(1 0.880)">-0.22</text><text transform="translate(221.42 214.36) scale(1 0.880)">(0.3)</text><text transform="translate(250.10 209.16) scale(1 0.880)">-0.16</text><text transform="translate(250.10 214.36) scale(1 0.880)">(0.46)</text><text transform="translate(278.78 209.16) scale(1 0.880)">-0.19</text><text transform="translate(278.78 214.36) scale(1 0.880)">(0.37)</text><text transform="translate(307.46 209.16) scale(1 0.880)">-0.13</text><text transform="translate(307.46 214.36) scale(1 0.880)">(0.54)</text><text transform="translate(336.15 209.16) scale(1 0.880)">-0.14</text><text transform="translate(336.15 214.36) scale(1 0.880)">(0.51)</text><text transform="translate(364.83 209.16) scale(1 0.880)">-0.16</text><text transform="translate(364.83 214.36) scale(1 0.880)">(0.46)</text><text transform="translate(393.51 209.16) scale(1 0.880)">-0.28</text><text transform="translate(393.51 214.36) scale(1 0.880)">(0.19)</text>
<text transform="translate(106.69 229.10) scale(1 0.880)">-0.28</text><text transform="translate(106.69 234.30) scale(1 0.880)">(0.19)</text><text transform="translate(135.37 229.10) scale(1 0.880)">-0.19</text><text transform="translate(135.37 234.30) scale(1 0.880)">(0.37)</text><text transform="translate(164.05 229.10) scale(1 0.880)">-0.39</text><text transform="translate(164.05 234.30) scale(1 0.880)">(0.06)</text><text transform="translate(192.74 229.10) scale(1 0.880)">-0.32</text><text transform="translate(192.74 234.30) scale(1 0.880)">(0.13)</text><text transform="translate(221.42 229.10) scale(1 0.880)">-0.18</text><text transform="translate(221.42 234.30) scale(1 0.880)">(0.4)</text><text transform="translate(250.10 229.10) scale(1 0.880)">-0.11</text><text transform="translate(250.10 234.30) scale(1 0.880)">(0.61)</text><text transform="translate(278.78 229.10) scale(1 0.880)">-0.24</text><text transform="translate(278.78 234.30) scale(1 0.880)">(0.26)</text><text transform="translate(307.46 229.10) scale(1 0.880)">-0.41</text><text transform="translate(307.46 234.30) scale(1 0.880)">(0.047)</text><text transform="translate(336.15 229.10) scale(1 0.880)">-0.29</text><text transform="translate(336.15 234.30) scale(1 0.880)">(0.17)</text><text transform="translate(364.83 229.10) scale(1 0.880)">-0.29</text><text transform="translate(364.83 234.30) scale(1 0.880)">(0.17)</text><text transform="translate(393.51 229.10) scale(1 0.880)">-0.28</text><text transform="translate(393.51 234.30) scale(1 0.880)">(0.19)</text>
<text transform="translate(106.69 249.04) scale(1 0.880)">0.31</text><text transform="translate(106.69 254.24) scale(1 0.880)">(0.14)</text><text transform="translate(135.37 249.04) scale(1 0.880)">0.43</text><text transform="translate(135.37 254.24) scale(1 0.880)">(0.036)</text><text transform="translate(164.05 249.04) scale(1 0.880)">0.34</text><text transform="translate(164.05 254.24) scale(1 0.880)">(0.1)</text><text transform="translate(192.74 249.04) scale(1 0.880)">0.34</text><text transform="translate(192.74 254.24) scale(1 0.880)">(0.1)</text><text transform="translate(221.42 249.04) scale(1 0.880)">0.43</text><text transform="translate(221.42 254.24) scale(1 0.880)">(0.036)</text><text transform="translate(250.10 249.04) scale(1 0.880)">0.58</text><text transform="translate(250.10 254.24) scale(1 0.880)">(0.003)</text><text transform="translate(278.78 249.04) scale(1 0.880)">0.47</text><text transform="translate(278.78 254.24) scale(1 0.880)">(0.02)</text><text transform="translate(307.46 249.04) scale(1 0.880)">0.33</text><text transform="translate(307.46 254.24) scale(1 0.880)">(0.12)</text><text transform="translate(336.15 249.04) scale(1 0.880)">0.44</text><text transform="translate(336.15 254.24) scale(1 0.880)">(0.031)</text><text transform="translate(364.83 249.04) scale(1 0.880)">0.45</text><text transform="translate(364.83 254.24) scale(1 0.880)">(0.027)</text><text transform="translate(393.51 249.04) scale(1 0.880)">0.32</text><text transform="translate(393.51 254.24) scale(1 0.880)">(0.13)</text>
<text transform="translate(106.69 268.98) scale(1 0.880)">-0.13</text><text transform="translate(106.69 274.18) scale(1 0.880)">(0.54)</text><text transform="translate(135.37 268.98) scale(1 0.880)">0.13</text><text transform="translate(135.37 274.18) scale(1 0.880)">(0.54)</text><text transform="translate(164.05 268.98) scale(1 0.880)">0.15</text><text transform="translate(164.05 274.18) scale(1 0.880)">(0.48)</text><text transform="translate(192.74 268.98) scale(1 0.880)">0.0091</text><text transform="translate(192.74 274.18) scale(1 0.880)">(0.97)</text><text transform="translate(221.42 268.98) scale(1 0.880)">0.047</text><text transform="translate(221.42 274.18) scale(1 0.880)">(0.83)</text><text transform="translate(250.10 268.98) scale(1 0.880)">0.27</text><text transform="translate(250.10 274.18) scale(1 0.880)">(0.2)</text><text transform="translate(278.78 268.98) scale(1 0.880)">0.17</text><text transform="translate(278.78 274.18) scale(1 0.880)">(0.43)</text><text transform="translate(307.46 268.98) scale(1 0.880)">0.24</text><text transform="translate(307.46 274.18) scale(1 0.880)">(0.26)</text><text transform="translate(336.15 268.98) scale(1 0.880)">0.25</text><text transform="translate(336.15 274.18) scale(1 0.880)">(0.24)</text><text transform="translate(364.83 268.98) scale(1 0.880)">0.25</text><text transform="translate(364.83 274.18) scale(1 0.880)">(0.24)</text><text transform="translate(393.51 268.98) scale(1 0.880)">-0.11</text><text transform="translate(393.51 274.18) scale(1 0.880)">(0.61)</text>
<text transform="translate(106.69 288.92) scale(1 0.880)">0.42</text><text transform="translate(106.69 294.12) scale(1 0.880)">(0.041)</text><text transform="translate(135.37 288.92) scale(1 0.880)">0.37</text><text transform="translate(135.37 294.12) scale(1 0.880)">(0.075)</text><text transform="translate(164.05 288.92) scale(1 0.880)">0.6</text><text transform="translate(164.05 294.12) scale(1 0.880)">(0.0019)</text><text transform="translate(192.74 288.92) scale(1 0.880)">0.49</text><text transform="translate(192.74 294.12) scale(1 0.880)">(0.015)</text><text transform="translate(221.42 288.92) scale(1 0.880)">0.33</text><text transform="translate(221.42 294.12) scale(1 0.880)">(0.12)</text><text transform="translate(250.10 288.92) scale(1 0.880)">0.31</text><text transform="translate(250.10 294.12) scale(1 0.880)">(0.14)</text><text transform="translate(278.78 288.92) scale(1 0.880)">0.44</text><text transform="translate(278.78 294.12) scale(1 0.880)">(0.031)</text><text transform="translate(307.46 288.92) scale(1 0.880)">0.64</text><text transform="translate(307.46 294.12) scale(1 0.880)">(0.00078)</text><text transform="translate(336.15 288.92) scale(1 0.880)">0.5</text><text transform="translate(336.15 294.12) scale(1 0.880)">(0.013)</text><text transform="translate(364.83 288.92) scale(1 0.880)">0.51</text><text transform="translate(364.83 294.12) scale(1 0.880)">(0.011)</text><text transform="translate(393.51 288.92) scale(1 0.880)">0.42</text><text transform="translate(393.51 294.12) scale(1 0.880)">(0.041)</text>
<text transform="translate(106.69 308.86) scale(1 0.880)">0.87</text><text transform="translate(106.69 314.06) scale(1 0.880)">(3.3e-08)</text><text transform="translate(135.37 308.86) scale(1 0.880)">0.97</text><text transform="translate(135.37 314.06) scale(1 0.880)">(5.3e-15)</text><text transform="translate(164.05 308.86) scale(1 0.880)">0.9</text><text transform="translate(164.05 314.06) scale(1 0.880)">(2.2e-09)</text><text transform="translate(192.74 308.86) scale(1 0.880)">0.92</text><text transform="translate(192.74 314.06) scale(1 0.880)">(2e-10)</text><text transform="translate(221.42 308.86) scale(1 0.880)">0.96</text><text transform="translate(221.42 314.06) scale(1 0.880)">(1.2e-13)</text><text transform="translate(250.10 308.86) scale(1 0.880)">0.98</text><text transform="translate(250.10 314.06) scale(1 0.880)">(6.4e-17)</text><text transform="translate(278.78 308.86) scale(1 0.880)">0.97</text><text transform="translate(278.78 314.06) scale(1 0.880)">(5.3e-15)</text><text transform="translate(307.46 308.86) scale(1 0.880)">0.85</text><text transform="translate(307.46 314.06) scale(1 0.880)">(1.5e-07)</text><text transform="translate(336.15 308.86) scale(1 0.880)">0.96</text><text transform="translate(336.15 314.06) scale(1 0.880)">(1.2e-13)</text><text transform="translate(364.83 308.86) scale(1 0.880)">0.94</text><text transform="translate(364.83 314.06) scale(1 0.880)">(8.9e-12)</text><text transform="translate(393.51 308.86) scale(1 0.880)">0.88</text><text transform="translate(393.51 314.06) scale(1 0.880)">(1.5e-08)</text>
<text transform="translate(106.69 328.80) scale(1 0.880)">0.9</text><text transform="translate(106.69 334.00) scale(1 0.880)">(2.2e-09)</text><text transform="translate(135.37 328.80) scale(1 0.880)">0.78</text><text transform="translate(135.37 334.00) scale(1 0.880)">(7e-06)</text><text transform="translate(164.05 328.80) scale(1 0.880)">0.71</text><text transform="translate(164.05 334.00) scale(1 0.880)">(1e-04)</text><text transform="translate(192.74 328.80) scale(1 0.880)">0.83</text><text transform="translate(192.74 334.00) scale(1 0.880)">(5.3e-07)</text><text transform="translate(221.42 328.80) scale(1 0.880)">0.8</text><text transform="translate(221.42 334.00) scale(1 0.880)">(2.7e-06)</text><text transform="translate(250.10 328.80) scale(1 0.880)">0.63</text><text transform="translate(250.10 334.00) scale(1 0.880)">(0.00097)</text><text transform="translate(278.78 328.80) scale(1 0.880)">0.72</text><text transform="translate(278.78 334.00) scale(1 0.880)">(7.3e-05)</text><text transform="translate(307.46 328.80) scale(1 0.880)">0.61</text><text transform="translate(307.46 334.00) scale(1 0.880)">(0.0016)</text><text transform="translate(336.15 328.80) scale(1 0.880)">0.64</text><text transform="translate(336.15 334.00) scale(1 0.880)">(0.00078)</text><text transform="translate(364.83 328.80) scale(1 0.880)">0.65</text><text transform="translate(364.83 334.00) scale(1 0.880)">(0.00059)</text><text transform="translate(393.51 328.80) scale(1 0.880)">0.89</text><text transform="translate(393.51 334.00) scale(1 0.880)">(5.9e-09)</text>
<text transform="translate(106.69 348.74) scale(1 0.880)">-0.37</text><text transform="translate(106.69 353.94) scale(1 0.880)">(0.075)</text><text transform="translate(135.37 348.74) scale(1 0.880)">-0.55</text><text transform="translate(135.37 353.94) scale(1 0.880)">(0.0054)</text><text transform="translate(164.05 348.74) scale(1 0.880)">-0.42</text><text transform="translate(164.05 353.94) scale(1 0.880)">(0.041)</text><text transform="translate(192.74 348.74) scale(1 0.880)">-0.42</text><text transform="translate(192.74 353.94) scale(1 0.880)">(0.041)</text><text transform="translate(221.42 348.74) scale(1 0.880)">-0.47</text><text transform="translate(221.42 353.94) scale(1 0.880)">(0.02)</text><text transform="translate(250.10 348.74) scale(1 0.880)">-0.46</text><text transform="translate(250.10 353.94) scale(1 0.880)">(0.024)</text><text transform="translate(278.78 348.74) scale(1 0.880)">-0.43</text><text transform="translate(278.78 353.94) scale(1 0.880)">(0.036)</text><text transform="translate(307.46 348.74) scale(1 0.880)">-0.4</text><text transform="translate(307.46 353.94) scale(1 0.880)">(0.053)</text><text transform="translate(336.15 348.74) scale(1 0.880)">-0.43</text><text transform="translate(336.15 353.94) scale(1 0.880)">(0.036)</text><text transform="translate(364.83 348.74) scale(1 0.880)">-0.41</text><text transform="translate(364.83 353.94) scale(1 0.880)">(0.047)</text><text transform="translate(393.51 348.74) scale(1 0.880)">-0.38</text><text transform="translate(393.51 353.94) scale(1 0.880)">(0.067)</text>
<text transform="translate(106.69 368.68) scale(1 0.880)">0.057</text><text transform="translate(106.69 373.88) scale(1 0.880)">(0.79)</text><text transform="translate(135.37 368.68) scale(1 0.880)">-0.057</text><text transform="translate(135.37 373.88) scale(1 0.880)">(0.79)</text><text transform="translate(164.05 368.68) scale(1 0.880)">-0.025</text><text transform="translate(164.05 373.88) scale(1 0.880)">(0.91)</text><text transform="translate(192.74 368.68) scale(1 0.880)">0.0085</text><text transform="translate(192.74 373.88) scale(1 0.880)">(0.97)</text><text transform="translate(221.42 368.68) scale(1 0.880)">-0.067</text><text transform="translate(221.42 373.88) scale(1 0.880)">(0.76)</text><text transform="translate(250.10 368.68) scale(1 0.880)">-0.25</text><text transform="translate(250.10 373.88) scale(1 0.880)">(0.24)</text><text transform="translate(278.78 368.68) scale(1 0.880)">-0.13</text><text transform="translate(278.78 373.88) scale(1 0.880)">(0.54)</text><text transform="translate(307.46 368.68) scale(1 0.880)">-0.042</text><text transform="translate(307.46 373.88) scale(1 0.880)">(0.85)</text><text transform="translate(336.15 368.68) scale(1 0.880)">-0.15</text><text transform="translate(336.15 373.88) scale(1 0.880)">(0.48)</text><text transform="translate(364.83 368.68) scale(1 0.880)">-0.15</text><text transform="translate(364.83 373.88) scale(1 0.880)">(0.48)</text><text transform="translate(393.51 368.68) scale(1 0.880)">0.049</text><text transform="translate(393.51 373.88) scale(1 0.880)">(0.82)</text>
<text transform="translate(106.69 388.62) scale(1 0.880)">0.22</text><text transform="translate(106.69 393.82) scale(1 0.880)">(0.3)</text><text transform="translate(135.37 388.62) scale(1 0.880)">0.0075</text><text transform="translate(135.37 393.82) scale(1 0.880)">(0.97)</text><text transform="translate(164.05 388.62) scale(1 0.880)">0.017</text><text transform="translate(164.05 393.82) scale(1 0.880)">(0.94)</text><text transform="translate(192.74 388.62) scale(1 0.880)">0.11</text><text transform="translate(192.74 393.82) scale(1 0.880)">(0.61)</text><text transform="translate(221.42 388.62) scale(1 0.880)">0.021</text><text transform="translate(221.42 393.82) scale(1 0.880)">(0.92)</text><text transform="translate(250.10 388.62) scale(1 0.880)">-0.21</text><text transform="translate(250.10 393.82) scale(1 0.880)">(0.32)</text><text transform="translate(278.78 388.62) scale(1 0.880)">-0.072</text><text transform="translate(278.78 393.82) scale(1 0.880)">(0.74)</text><text transform="translate(307.46 388.62) scale(1 0.880)">-0.044</text><text transform="translate(307.46 393.82) scale(1 0.880)">(0.84)</text><text transform="translate(336.15 388.62) scale(1 0.880)">-0.14</text><text transform="translate(336.15 393.82) scale(1 0.880)">(0.51)</text><text transform="translate(364.83 388.62) scale(1 0.880)">-0.11</text><text transform="translate(364.83 393.82) scale(1 0.880)">(0.61)</text><text transform="translate(393.51 388.62) scale(1 0.880)">0.2</text><text transform="translate(393.51 393.82) scale(1 0.880)">(0.35)</text>
<text transform="translate(106.69 408.56) scale(1 0.880)">-0.41</text><text transform="translate(106.69 413.76) scale(1 0.880)">(0.047)</text><text transform="translate(135.37 408.56) scale(1 0.880)">-0.25</text><text transform="translate(135.37 413.76) scale(1 0.880)">(0.24)</text><text transform="translate(164.05 408.56) scale(1 0.880)">-0.25</text><text transform="translate(164.05 413.76) scale(1 0.880)">(0.24)</text><text transform="translate(192.74 408.56) scale(1 0.880)">-0.33</text><text transform="translate(192.74 413.76) scale(1 0.880)">(0.12)</text><text transform="translate(221.42 408.56) scale(1 0.880)">-0.3</text><text transform="translate(221.42 413.76) scale(1 0.880)">(0.15)</text><text transform="translate(250.10 408.56) scale(1 0.880)">-0.21</text><text transform="translate(250.10 413.76) scale(1 0.880)">(0.32)</text><text transform="translate(278.78 408.56) scale(1 0.880)">-0.27</text><text transform="translate(278.78 413.76) scale(1 0.880)">(0.2)</text><text transform="translate(307.46 408.56) scale(1 0.880)">-0.19</text><text transform="translate(307.46 413.76) scale(1 0.880)">(0.37)</text><text transform="translate(336.15 408.56) scale(1 0.880)">-0.19</text><text transform="translate(336.15 413.76) scale(1 0.880)">(0.37)</text><text transform="translate(364.83 408.56) scale(1 0.880)">-0.23</text><text transform="translate(364.83 413.76) scale(1 0.880)">(0.28)</text><text transform="translate(393.51 408.56) scale(1 0.880)">-0.41</text><text transform="translate(393.51 413.76) scale(1 0.880)">(0.047)</text>
<text transform="translate(106.69 428.50) scale(1 0.880)">-0.9</text><text transform="translate(106.69 433.70) scale(1 0.880)">(2.2e-09)</text><text transform="translate(135.37 428.50) scale(1 0.880)">-0.85</text><text transform="translate(135.37 433.70) scale(1 0.880)">(1.5e-07)</text><text transform="translate(164.05 428.50) scale(1 0.880)">-0.7</text><text transform="translate(164.05 433.70) scale(1 0.880)">(0.00014)</text><text transform="translate(192.74 428.50) scale(1 0.880)">-0.84</text><text transform="translate(192.74 433.70) scale(1 0.880)">(2.8e-07)</text><text transform="translate(221.42 428.50) scale(1 0.880)">-0.9</text><text transform="translate(221.42 433.70) scale(1 0.880)">(2.2e-09)</text><text transform="translate(250.10 428.50) scale(1 0.880)">-0.81</text><text transform="translate(250.10 433.70) scale(1 0.880)">(1.6e-06)</text><text transform="translate(278.78 428.50) scale(1 0.880)">-0.82</text><text transform="translate(278.78 433.70) scale(1 0.880)">(9.4e-07)</text><text transform="translate(307.46 428.50) scale(1 0.880)">-0.59</text><text transform="translate(307.46 433.70) scale(1 0.880)">(0.0024)</text><text transform="translate(336.15 428.50) scale(1 0.880)">-0.71</text><text transform="translate(336.15 433.70) scale(1 0.880)">(1e-04)</text><text transform="translate(364.83 428.50) scale(1 0.880)">-0.72</text><text transform="translate(364.83 433.70) scale(1 0.880)">(7.3e-05)</text><text transform="translate(393.51 428.50) scale(1 0.880)">-0.9</text><text transform="translate(393.51 433.70) scale(1 0.880)">(2.2e-09)</text>
<text transform="translate(106.69 448.44) scale(1 0.880)">-0.41</text><text transform="translate(106.69 453.64) scale(1 0.880)">(0.047)</text><text transform="translate(135.37 448.44) scale(1 0.880)">-0.48</text><text transform="translate(135.37 453.64) scale(1 0.880)">(0.018)</text><text transform="translate(164.05 448.44) scale(1 0.880)">-0.34</text><text transform="translate(164.05 453.64) scale(1 0.880)">(0.1)</text><text transform="translate(192.74 448.44) scale(1 0.880)">-0.4</text><text transform="translate(192.74 453.64) scale(1 0.880)">(0.053)</text><text transform="translate(221.42 448.44) scale(1 0.880)">-0.52</text><text transform="translate(221.42 453.64) scale(1 0.880)">(0.0092)</text><text transform="translate(250.10 448.44) scale(1 0.880)">-0.61</text><text transform="translate(250.10 453.64) scale(1 0.880)">(0.0016)</text><text transform="translate(278.78 448.44) scale(1 0.880)">-0.5</text><text transform="translate(278.78 453.64) scale(1 0.880)">(0.013)</text><text transform="translate(307.46 448.44) scale(1 0.880)">-0.29</text><text transform="translate(307.46 453.64) scale(1 0.880)">(0.17)</text><text transform="translate(336.15 448.44) scale(1 0.880)">-0.45</text><text transform="translate(336.15 453.64) scale(1 0.880)">(0.027)</text><text transform="translate(364.83 448.44) scale(1 0.880)">-0.45</text><text transform="translate(364.83 453.64) scale(1 0.880)">(0.027)</text><text transform="translate(393.51 448.44) scale(1 0.880)">-0.41</text><text transform="translate(393.51 453.64) scale(1 0.880)">(0.047)</text>
<text transform="translate(106.69 468.38) scale(1 0.880)">-0.51</text><text transform="translate(106.69 473.58) scale(1 0.880)">(0.011)</text><text transform="translate(135.37 468.38) scale(1 0.880)">-0.4</text><text transform="translate(135.37 473.58) scale(1 0.880)">(0.053)</text><text transform="translate(164.05 468.38) scale(1 0.880)">-0.35</text><text transform="translate(164.05 473.58) scale(1 0.880)">(0.094)</text><text transform="translate(192.74 468.38) scale(1 0.880)">-0.44</text><text transform="translate(192.74 473.58) scale(1 0.880)">(0.031)</text><text transform="translate(221.42 468.38) scale(1 0.880)">-0.49</text><text transform="translate(221.42 473.58) scale(1 0.880)">(0.015)</text><text transform="translate(250.10 468.38) scale(1 0.880)">-0.53</text><text transform="translate(250.10 473.58) scale(1 0.880)">(0.0077)</text><text transform="translate(278.78 468.38) scale(1 0.880)">-0.49</text><text transform="translate(278.78 473.58) scale(1 0.880)">(0.015)</text><text transform="translate(307.46 468.38) scale(1 0.880)">-0.28</text><text transform="translate(307.46 473.58) scale(1 0.880)">(0.19)</text><text transform="translate(336.15 468.38) scale(1 0.880)">-0.39</text><text transform="translate(336.15 473.58) scale(1 0.880)">(0.06)</text><text transform="translate(364.83 468.38) scale(1 0.880)">-0.42</text><text transform="translate(364.83 473.58) scale(1 0.880)">(0.041)</text><text transform="translate(393.51 468.38) scale(1 0.880)">-0.51</text><text transform="translate(393.51 473.58) scale(1 0.880)">(0.011)</text>
<text transform="translate(106.69 488.32) scale(1 0.880)">-0.14</text><text transform="translate(106.69 493.52) scale(1 0.880)">(0.51)</text><text transform="translate(135.37 488.32) scale(1 0.880)">-0.039</text><text transform="translate(135.37 493.52) scale(1 0.880)">(0.86)</text><text transform="translate(164.05 488.32) scale(1 0.880)">-0.035</text><text transform="translate(164.05 493.52) scale(1 0.880)">(0.87)</text><text transform="translate(192.74 488.32) scale(1 0.880)">-0.14</text><text transform="translate(192.74 493.52) scale(1 0.880)">(0.51)</text><text transform="translate(221.42 488.32) scale(1 0.880)">-0.13</text><text transform="translate(221.42 493.52) scale(1 0.880)">(0.54)</text><text transform="translate(250.10 488.32) scale(1 0.880)">0.053</text><text transform="translate(250.10 493.52) scale(1 0.880)">(0.81)</text><text transform="translate(278.78 488.32) scale(1 0.880)">-0.017</text><text transform="translate(278.78 493.52) scale(1 0.880)">(0.94)</text><text transform="translate(307.46 488.32) scale(1 0.880)">0.012</text><text transform="translate(307.46 493.52) scale(1 0.880)">(0.96)</text><text transform="translate(336.15 488.32) scale(1 0.880)">-0.001</text><text transform="translate(336.15 493.52) scale(1 0.880)">(1)</text><text transform="translate(364.83 488.32) scale(1 0.880)">0.045</text><text transform="translate(364.83 493.52) scale(1 0.880)">(0.83)</text><text transform="translate(393.51 488.32) scale(1 0.880)">-0.14</text><text transform="translate(393.51 493.52) scale(1 0.880)">(0.51)</text>
</g>
<g font-size="8.05" text-anchor="end" fill="#111" stroke="#111" stroke-width="0.15">
<text transform="translate(115.34 506.90) scale(1 0.800) rotate(-27.3)">Cyanidin-3-O-galactoside</text>
<text transform="translate(143.69 506.90) scale(1 0.800) rotate(-27.3)">Cyanidin-3-O-arabinoside</text>
<text transform="translate(172.04 506.90) scale(1 0.800) rotate(-27.3)">Cyanidin-3-O-xyloside</text>
<text transform="translate(200.39 506.90) scale(1 0.800) rotate(-27.3)">Cyanidin-3-O-glucoside</text>
<text transform="translate(228.74 506.90) scale(1 0.800) rotate(-27.3)">Peonidin-3-O-galactoside</text>
<text transform="translate(257.09 506.90) scale(1 0.800) rotate(-27.3)">Pelargonidin-3-O-galactoside</text>
<text transform="translate(285.44 506.90) scale(1 0.800) rotate(-27.3)">Cyanidin-3-O-sophoroside</text>
<text transform="translate(313.79 506.90) scale(1 0.800) rotate(-27.3)">Peonidin-3-O-arabinoside</text>
<text transform="translate(342.14 506.90) scale(1 0.800) rotate(-27.3)">Pelargonidin-3-O-arabinoside</text>
<text transform="translate(370.49 506.90) scale(1 0.800) rotate(-27.3)">Peonidin-3-O-glucoside</text>
<text transform="translate(398.84 506.90) scale(1 0.800) rotate(-27.3)">Total anthocyanin content</text>
</g>
<g>
<rect x="413.10" y="461.57" width="7.70" height="8.43" fill="#0D8CFF"/><rect x="413.10" y="453.14" width="7.70" height="8.73" fill="#1791FF"/><rect x="413.10" y="444.71" width="7.70" height="8.73" fill="#2196FF"/><rect x="413.10" y="436.28" width="7.70" height="8.73" fill="#2B9BFF"/><rect x="413.10" y="427.85" width="7.70" height="8.73" fill="#359FFF"/><rect x="413.10" y="419.42" width="7.70" height="8.73" fill="#3FA4FF"/><rect x="413.10" y="410.99" width="7.70" height="8.73" fill="#49A9FF"/><rect x="413.10" y="402.56" width="7.70" height="8.73" fill="#53AEFF"/><rect x="413.10" y="394.13" width="7.70" height="8.73" fill="#5EB2FF"/><rect x="413.10" y="385.70" width="7.70" height="8.73" fill="#68B7FF"/><rect x="413.10" y="377.27" width="7.70" height="8.73" fill="#72BCFF"/><rect x="413.10" y="368.84" width="7.70" height="8.73" fill="#7CC1FF"/><rect x="413.10" y="360.41" width="7.70" height="8.73" fill="#86C6FF"/><rect x="413.10" y="351.98" width="7.70" height="8.73" fill="#90CAFF"/><rect x="413.10" y="343.55" width="7.70" height="8.73" fill="#9ACFFF"/><rect x="413.10" y="335.12" width="7.70" height="8.73" fill="#A4D4FF"/><rect x="413.10" y="326.69" width="7.70" height="8.73" fill="#AED9FF"/><rect x="413.10" y="318.26" width="7.70" height="8.73" fill="#B8DEFF"/><rect x="413.10" y="309.83" width="7.70" height="8.73" fill="#C2E2FF"/><rect x="413.10" y="301.40" width="7.70" height="8.73" fill="#CDE7FF"/><rect x="413.10" y="292.97" width="7.70" height="8.73" fill="#D7ECFF"/><rect x="413.10" y="284.54" width="7.70" height="8.73" fill="#E1F1FF"/><rect x="413.10" y="276.11" width="7.70" height="8.73" fill="#EBF5FF"/><rect x="413.10" y="267.68" width="7.70" height="8.73" fill="#F5FAFF"/><rect x="413.10" y="259.25" width="7.70" height="8.73" fill="#FFFFFF"/><rect x="413.10" y="250.82" width="7.70" height="8.73" fill="#FFFFFF"/><rect x="413.10" y="242.39" width="7.70" height="8.73" fill="#FFF7F4"/><rect x="413.10" y="233.96" width="7.70" height="8.73" fill="#FFEEEA"/><rect x="413.10" y="225.53" width="7.70" height="8.73" fill="#FFE6DF"/><rect x="413.10" y="217.10" width="7.70" height="8.73" fill="#FFDDD4"/><rect x="413.10" y="208.67" width="7.70" height="8.73" fill="#FFD4CA"/><rect x="413.10" y="200.24" width="7.70" height="8.73" fill="#FFCCBF"/><rect x="413.10" y="191.81" width="7.70" height="8.73" fill="#FFC4B5"/><rect x="413.10" y="183.38" width="7.70" height="8.73" fill="#FFBBAA"/><rect x="413.10" y="174.95" width="7.70" height="8.73" fill="#FFB29F"/><rect x="413.10" y="166.52" width="7.70" height="8.73" fill="#FFAA95"/><rect x="413.10" y="158.09" width="7.70" height="8.73" fill="#FFA28A"/><rect x="413.10" y="149.66" width="7.70" height="8.73" fill="#FF9980"/><rect x="413.10" y="141.23" width="7.70" height="8.73" fill="#FF9075"/><rect x="413.10" y="132.80" width="7.70" height="8.73" fill="#FF886A"/><rect x="413.10" y="124.37" width="7.70" height="8.73" fill="#FF8060"/><rect x="413.10" y="115.94" width="7.70" height="8.73" fill="#FF7755"/><rect x="413.10" y="107.51" width="7.70" height="8.73" fill="#FF6E4A"/><rect x="413.10" y="99.08" width="7.70" height="8.73" fill="#FF6640"/><rect x="413.10" y="90.65" width="7.70" height="8.73" fill="#FF5E35"/><rect x="413.10" y="82.22" width="7.70" height="8.73" fill="#FF552A"/><rect x="413.10" y="73.79" width="7.70" height="8.73" fill="#FF4D20"/><rect x="413.10" y="65.36" width="7.70" height="8.73" fill="#FF4415"/><rect x="413.10" y="56.93" width="7.70" height="8.73" fill="#FF3C0B"/><rect x="413.10" y="48.50" width="7.70" height="8.73" fill="#FF3300"/>
</g>
<rect x="413.45" y="49.05" width="7.00" height="420.40" fill="none" stroke="#383838" stroke-width="1.1"/>
<g font-size="9.30" fill="#1a1a1a" stroke="#1a1a1a" stroke-width="0.3">
<line x1="421.00" y1="49.20" x2="425.20" y2="49.20" stroke="#222" stroke-width="0.7"/><text transform="translate(426.90 52.10) scale(1 0.800)">1</text>
<line x1="421.00" y1="154.30" x2="425.20" y2="154.30" stroke="#222" stroke-width="0.7"/><text transform="translate(426.90 157.20) scale(1 0.800)">0.5</text>
<line x1="421.00" y1="259.40" x2="425.20" y2="259.40" stroke="#222" stroke-width="0.7"/><text transform="translate(426.90 262.30) scale(1 0.800)">0</text>
<line x1="421.00" y1="364.50" x2="425.20" y2="364.50" stroke="#222" stroke-width="0.7"/><text transform="translate(427.60 367.40) scale(1 0.800)">-0.5</text>
<line x1="421.00" y1="469.60" x2="425.20" y2="469.60" stroke="#222" stroke-width="0.7"/><text transform="translate(427.60 472.50) scale(1 0.800)">-1</text>
</g>
</svg>
</body></html>
